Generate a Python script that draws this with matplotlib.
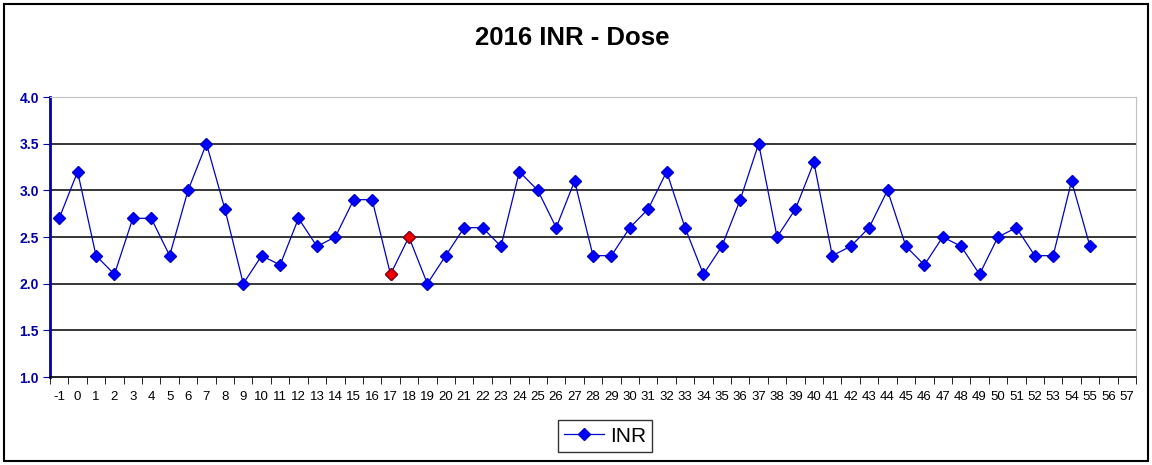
import matplotlib as mpl
mpl.use('Agg')
import matplotlib.pyplot as plt
import numpy as np

# %% Data
days = list(range(-1, 56))
inr = [2.7, 3.2, 2.3, 2.1, 2.7, 2.7, 2.3, 3.0, 3.5, 2.8,
       2.0, 2.3, 2.2, 2.7, 2.4, 2.5, 2.9, 2.9, 2.1, 2.5,
       2.0, 2.3, 2.6, 2.6, 2.4, 3.2, 3.0, 2.6, 3.1, 2.3,
       2.3, 2.6, 2.8, 3.2, 2.6, 2.1, 2.4, 2.9, 3.5, 2.5,
       2.8, 3.3, 2.3, 2.4, 2.6, 3.0, 2.4, 2.2, 2.5, 2.4,
       2.1, 2.5, 2.6, 2.3, 2.3, 3.1, 2.4]
red_days = [17, 18]
x_labels = list(range(-1, 58))
y_ticks = [1.0, 1.5, 2.0, 2.5, 3.0, 3.5, 4.0]

plt.rcParams['font.family'] = ['Liberation Sans', 'DejaVu Sans']

# %% Plot
fig = plt.figure(figsize=(11.52, 4.65), dpi=100)
ax = fig.add_axes([50 / 1152, 1 - 377 / 465, 1086 / 1152, 280 / 465])

ax.plot(days, inr, color='#0000CC', lw=0.9, marker='D', ms=6.5,
        mfc='#0000FF', mec='#0000CC', label='INR', zorder=3)
red_vals = [inr[days.index(d)] for d in red_days]
ax.plot(red_days, red_vals, ls='none', marker='D', ms=6.5,
        mfc='#EE0000', mec='#990000', zorder=4)

ax.set_xlim(-1.5, 57.5)
ax.set_ylim(1.0, 4.0)
ax.set_yticks(y_ticks)
ax.set_yticklabels([f'{v:.1f}' for v in y_ticks], color='#0000AA',
                   fontweight='bold', fontsize=10)
ax.set_xticks(x_labels)
ax.set_xticklabels([str(v) for v in x_labels], fontsize=9.5)
ax.set_xticks(np.arange(-1.5, 58, 1), minor=True)
ax.tick_params(axis='x', which='major', length=0, pad=10)
ax.tick_params(axis='x', which='minor', length=5, direction='out', color='black')
ax.tick_params(axis='y', length=5, direction='out', color='#0000AA', pad=3)

for y in y_ticks[1:-1]:
    ax.axhline(y, color='black', lw=1.1, zorder=1)

ax.spines['left'].set_color('#0000AA')
ax.spines['left'].set_linewidth(2)
ax.spines['bottom'].set_color('black')
ax.spines['bottom'].set_linewidth(1.2)
ax.spines['top'].set_color('#C0C0C0')
ax.spines['right'].set_color('#C0C0C0')

fig.suptitle('2016 INR - Dose', x=0.497, y=0.945, fontsize=18.5, fontweight='bold')

leg = fig.legend(handles=[ax.lines[0]], labels=['INR'], loc='center',
                 bbox_to_anchor=(605 / 1152, 1 - 436 / 465), fontsize=15,
                 frameon=True, fancybox=False, edgecolor='black',
                 handlelength=1.9, borderpad=0.3, handletextpad=0.3)
leg.get_frame().set_linewidth(1)

border = plt.Rectangle((4 / 1152, 4 / 465), 1 - 8 / 1152, 1 - 8 / 465,
                       transform=fig.transFigure, fill=False,
                       edgecolor='black', lw=1.5)
fig.patches.append(border)

plt.savefig('out.png', dpi=100)
